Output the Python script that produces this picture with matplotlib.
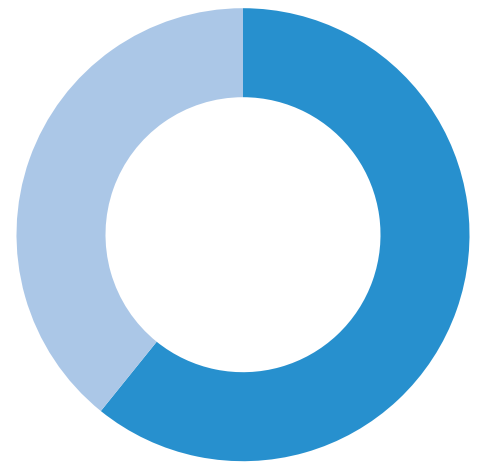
import matplotlib
matplotlib.use("Agg")
import matplotlib.pyplot as plt

labels = ["Primary", "Secondary"]
values = [60.8, 39.2]
colors = ["#2790CE", "#ABC7E7"]

fig = plt.figure(figsize=(4.8, 4.76), dpi=100)
ax = fig.add_axes([0, 0, 1, 1])

outer = 226.5
ring = outer - 137.5
ax.pie(
    values,
    colors=colors,
    startangle=90,
    counterclock=False,
    radius=outer,
    wedgeprops=dict(width=ring, linewidth=0, antialiased=True),
    frame=True,
)

# pixel-like data units so the ring sits where it does in the reference
ax.set_xlim(-243, 480 - 243)
ax.set_ylim(-(476 - 234.7), 234.7)
ax.set_aspect("equal")
ax.axis("off")

fig.savefig("out.png", dpi=100, facecolor="white")
